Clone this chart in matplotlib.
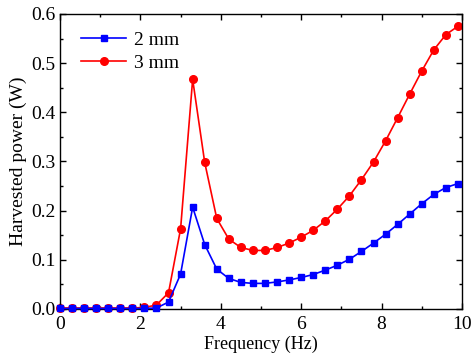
import numpy as np
import matplotlib
matplotlib.use("Agg")
import matplotlib.pyplot as plt
from matplotlib.ticker import MultipleLocator

# frequency (Hz), sampled every 0.3 Hz
freq = [0.0, 0.3, 0.6, 0.9, 1.2, 1.5, 1.8, 2.1, 2.4, 2.7, 3.0, 3.3, 3.6, 3.9,
        4.2, 4.5, 4.8, 5.1, 5.4, 5.7, 6.0, 6.3, 6.6, 6.9, 7.2, 7.5, 7.8, 8.1,
        8.4, 8.7, 9.0, 9.3, 9.6, 9.9]

# harvested power (W)
p_2mm = [0.001, 0.001, 0.001, 0.001, 0.001, 0.001, 0.001, 0.001, 0.002, 0.014,
         0.071, 0.207, 0.131, 0.081, 0.062, 0.054, 0.052, 0.052, 0.055, 0.059,
         0.064, 0.070, 0.079, 0.089, 0.101, 0.117, 0.134, 0.152, 0.172, 0.193,
         0.214, 0.233, 0.247, 0.255]
p_3mm = [0.002, 0.002, 0.002, 0.002, 0.002, 0.002, 0.002, 0.003, 0.008, 0.033,
         0.163, 0.467, 0.298, 0.184, 0.142, 0.125, 0.119, 0.119, 0.125, 0.134,
         0.146, 0.160, 0.179, 0.203, 0.230, 0.263, 0.299, 0.342, 0.389, 0.437,
         0.484, 0.527, 0.558, 0.575]

labels = ["2 mm", "3 mm"]

plt.rcParams['font.family'] = ['Liberation Serif', 'DejaVu Serif']
plt.rcParams['font.size'] = 12
plt.rcParams['xtick.direction'] = 'in'
plt.rcParams['ytick.direction'] = 'in'
plt.rcParams['xtick.top'] = True
plt.rcParams['ytick.right'] = True

fig = plt.figure(figsize=(4.74, 3.58), dpi=100)
ax = fig.add_axes([0.1266, 0.137, 0.848, 0.824])

ax.plot(freq, p_2mm, color="#0000ff", marker="s", markersize=4, lw=1.2,
        label=labels[0], clip_on=False, zorder=3)
ax.plot(freq, p_3mm, color="#ff0000", marker="o", markersize=5.5, lw=1.2,
        label=labels[1], clip_on=False, zorder=2)

ax.set_xlim(0, 10)
ax.set_ylim(0, 0.6)
ax.xaxis.set_major_locator(MultipleLocator(2))
ax.xaxis.set_minor_locator(MultipleLocator(1))
ax.yaxis.set_major_locator(MultipleLocator(0.1))
ax.yaxis.set_minor_locator(MultipleLocator(0.05))
ax.yaxis.set_major_formatter(matplotlib.ticker.FormatStrFormatter('%.1f'))
ax.tick_params(which='major', length=4, width=1, labelsize=14)
ax.tick_params(axis='x', which='major', pad=5)
ax.tick_params(which='minor', length=2.5, width=1)
for s in ax.spines.values():
    s.set_linewidth(1)

ax.set_xlabel("Frequency (Hz)", fontsize=13, labelpad=2)
ax.set_ylabel("Harvested power (W)", fontsize=14, labelpad=3)

ax.legend(loc="upper left", bbox_to_anchor=(0.0, 1.014), frameon=False,
          fontsize=14, handlelength=2.3, borderaxespad=0.7, labelspacing=0.3,
          handletextpad=0.4)

fig.savefig("out.png", dpi=100)
